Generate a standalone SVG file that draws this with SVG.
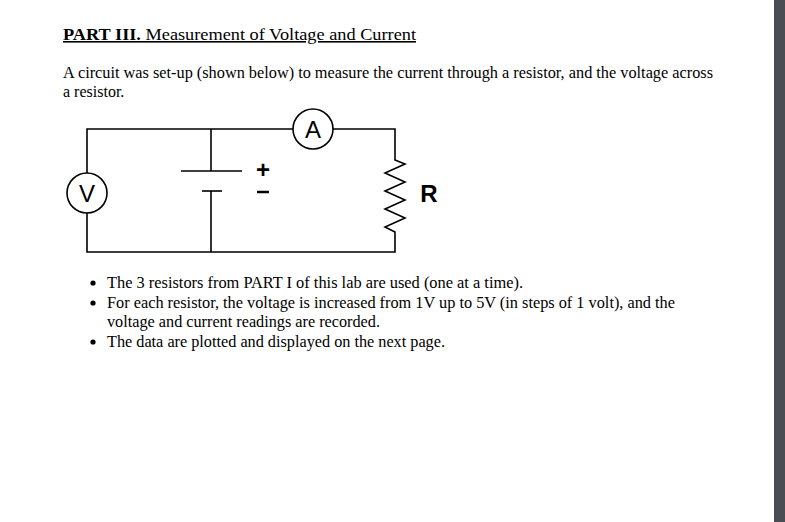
<svg xmlns="http://www.w3.org/2000/svg" width="785" height="522" viewBox="0 0 785 522">
<style>
.t{font-family:"Liberation Sans",serif;font-size:16px;fill:#000}
.t{font-family:"Liberation Serif",serif}
.w{stroke:#000;stroke-width:1.6;fill:none}
.m{font-family:"Liberation Sans",Arial,sans-serif;font-size:24px;fill:#000;text-anchor:middle}
</style>
<rect width="785" height="522" fill="#fff"/>
<rect x="774" y="0" width="11" height="522" fill="#4a4e52"/>
<text class="t" x="63" y="40" font-size="18" textLength="353" lengthAdjust="spacingAndGlyphs"><tspan font-weight="bold" text-decoration="underline">PART III.</tspan><tspan text-decoration="underline"> Measurement of Voltage and Current</tspan></text>
<text class="t" x="63" y="78" textLength="650" lengthAdjust="spacingAndGlyphs">A circuit was set-up (shown below) to measure the current through a resistor, and the voltage across</text>
<text class="t" x="63" y="97">a resistor.</text>
<g id="connectors">
<polyline class="w" points="293,129 87,129 87,173"/>
<polyline class="w" points="87,213 87,252 395,252 395,232 385,227 405,218 385,209 405,200 385,191 405,182 385,173 405,164 395,160 395,129 333,129"/>
<line class="w" x1="211" y1="129" x2="211" y2="171"/>
<line class="w" x1="211" y1="191" x2="211" y2="252"/>
</g>
<g id="battery">
<line class="w" x1="181" y1="171" x2="242" y2="171"/>
<line class="w" x1="202" y1="191" x2="222" y2="191"/>
<text class="m" x="263" y="178" font-weight="bold" font-size="18">+</text>
<line x1="257" y1="192" x2="269" y2="192" stroke="#000" stroke-width="2.5"/>
</g>
<g id="ammeter"><circle class="w" cx="313" cy="129" r="20"/><text class="m" x="313" y="138">A</text></g>
<g id="voltmeter"><circle class="w" cx="87" cy="193" r="20"/><text class="m" x="87" y="202">V</text></g>
<g id="resistor"><text class="m" x="429" y="202" font-weight="bold">R</text></g>
<g>
<circle cx="93" cy="283" r="2.6"/><text class="t" x="107" y="288" textLength="416" lengthAdjust="spacingAndGlyphs">The 3 resistors from PART I of this lab are used (one at a time).</text>
<circle cx="93" cy="303" r="2.6"/><text class="t" x="107" y="308" textLength="568" lengthAdjust="spacingAndGlyphs">For each resistor, the voltage is increased from 1V up to 5V (in steps of 1 volt), and the</text>
<text class="t" x="107" y="327" textLength="273" lengthAdjust="spacingAndGlyphs">voltage and current readings are recorded.</text>
<circle cx="93" cy="342" r="2.6"/><text class="t" x="107" y="347" textLength="338" lengthAdjust="spacingAndGlyphs">The data are plotted and displayed on the next page.</text>
</g>
</svg>
